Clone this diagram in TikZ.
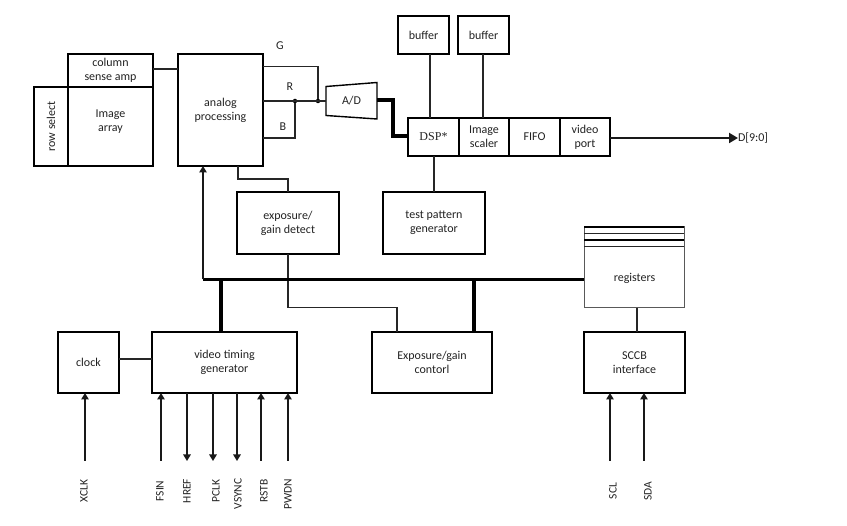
\documentclass[tikz,border=0pt]{standalone}
\usepackage{fontspec}
\setmainfont{Carlito}
\newfontfamily\dspfont{Liberation Serif}
\usetikzlibrary{arrows.meta,calc}
\definecolor{ink}{HTML}{222222}
\tikzset{
  box/.style={draw=black,line width=1.4pt,outer sep=0pt,inner sep=0pt,align=center,text=ink,font=\fontsize{12}{14}\selectfont},
  lab/.style={text=ink,inner sep=0pt,outer sep=0pt,font=\fontsize{12}{14}\selectfont},
  sig/.style={lab,rotate=90,font=\fontsize{11.5}{12}\selectfont},
  wire/.style={draw=black!85,line width=1.1pt},
  med/.style={draw=black,line width=1.4pt},
  arr/.style={draw=black!90,line width=1.3pt,-{Triangle[length=6.5pt,width=7.5pt]}},
  bus/.style={draw=black,line width=3.8pt},
  dot/.style={circle,fill=black,inner sep=0pt,minimum size=4.5pt},
  bx/.style n args={4}{box,minimum width={(#3)-(#1)},minimum height={(#4)-(#2)},at={({((#1)+(#3))/2},{((#2)+(#4))/2})}}
}
\begin{document}
\begin{tikzpicture}[x=1pt,y=-1pt]
\useasboundingbox (0,0) rectangle (847,526);
% sensor
\node[bx={68}{54}{153}{87}] (col) {column\\sense amp};
\node[bx={34}{87}{68}{166}] (row) {\rotatebox{90}{row select}};
\node[bx={68}{87}{153}{166}] (img) {};
\node[lab,align=center] (imgl) at (110.5,122) {Image\\array};
\node[bx={178}{54}{263}{166}] (ana) {analog\\processing};
% A/D
\node[lab,minimum width=51pt,minimum height=30pt] (ad) at (351.5,101) {A/D};
\draw[med] (326,86.5) -- (377,82.5) -- (377,119) -- (326,115.5) -- cycle;
% DSP row
\node[bx={408}{118}{459}{156}] (dsp) {\dspfont DSP*};
\node[bx={459}{118}{509}{156}] (scal) {Image\\scaler};
\node[bx={509}{118}{560}{156}] (fifo) {FIFO};
\node[bx={560}{118}{610}{156}] (port) {video\\port};
\node[bx={398}{16}{449}{54}] (bufa) {buffer};
\node[bx={458}{16}{509}{54}] (bufb) {buffer};
\node[bx={383}{192}{485}{254}] (test) {test pattern\\generator};
\node[bx={237}{192}{339}{254}] (det) {exposure/\\gain detect};
% lower
\node[bx={58}{332}{119}{393}] (clk) {clock};
\node[bx={152}{332}{297}{393}] (vt) {video timing\\generator};
\node[bx={372}{332}{492}{393}] (ctl) {Exposure/gain\\contorl};
\node[bx={584}{332}{685}{393}] (sccb) {SCCB\\interface};
\node[bx={584}{227}{684}{308},draw=black!65,line width=1pt] (reg) {};
\node[lab] (regl) at (634.5,278) {registers};
% register stripes
\coordinate (sa) at (584,227); \coordinate (sb) at (584,233.5);
\coordinate (sc) at (584,240); \coordinate (sd) at (584,246);
\draw[med,line width=1.8pt] (sa) -- (sa -| reg.east);
\draw[wire,line width=.9pt] (sb) -- (sb -| reg.east);
\draw[med,line width=1.8pt] (sc) -- (sc -| reg.east);
\draw[wire,line width=.9pt] (sd) -- (sd -| reg.east);
% labels
\node[lab] (g) at (280,46) {G};
\node[lab] (r) at (290,87) {R};
\node[lab] (b) at (283,127) {B};
\node[lab,anchor=west] (dout) at (738,138) {D[9:0]};
% analog to A/D
\coordinate (gy) at (263,66.5); \coordinate (by) at (263,138);
\node[dot] (ja) at (295,101) {};
\node[dot] (jb) at (318,101) {};
\draw[wire] (col.east |- 0,69) -- (ana.west |- 0,69);
\draw[wire] (ana.east |- jb) -- (ad.west);
\draw[wire] (gy) -| (jb);
\draw[wire] (by) -| (ja);
% thick ADC to DSP
\coordinate (ada) at (377,100); \coordinate (adb) at (393,136);
\draw[draw=black,line width=3.4pt] (ada) -| (adb) -- (adb -| dsp.west);
% DSP row links
\draw[wire] (bufa.south -| 430,0) -- (dsp.north -| 430,0);
\draw[wire] (bufb.south -| 483,0) -- (scal.north -| 483,0);
\draw[wire] (dsp.south -| 434,0) -- (test.north -| 434,0);
\draw[arr,line width=2pt,-{Triangle[length=9pt,width=10pt]}] (port.east |- 0,138) -- (dout.west);
% analog - detect
\coordinate (da) at (238,179);
\draw[wire] (ana.south -| da) -- (da) -| (det.north);
% detect - control
\coordinate (cb) at (397,307.5);
\draw[wire] (det.south) |- (cb) -- (ctl.north -| cb);
% bus
\coordinate (busl) at (203,279.5);
\draw[bus] (busl) -- (busl -| reg.west);
\draw[arr] (busl) -- (busl |- ana.south);
\draw[bus] (221,279.5) -- (vt.north -| 221,0);
\draw[bus] (474,279.5) -- (ctl.north -| 474,0);
% others
\draw[wire] (clk.east |- 0,359) -- (vt.west |- 0,359);
\draw[wire] (reg.south -| 637,0) -- (sccb.north -| 637,0);
% signals
\coordinate (xclk) at (85,461); \coordinate (fsin) at (161,461);
\coordinate (href) at (187,461); \coordinate (pclk) at (213,461);
\coordinate (vsync) at (237,461); \coordinate (rstb) at (261,461);
\coordinate (pwdn) at (288,461); \coordinate (scl) at (610,461);
\coordinate (sda) at (644,461);
\draw[arr] (xclk) -- (xclk |- clk.south);
\draw[arr] (fsin) -- (fsin |- vt.south);
\draw[arr] (href |- vt.south) -- (href);
\draw[arr] (pclk |- vt.south) -- (pclk);
\draw[arr] (vsync |- vt.south) -- (vsync);
\draw[arr] (rstb) -- (rstb |- vt.south);
\draw[arr] (pwdn) -- (pwdn |- vt.south);
\draw[arr] (scl) -- (scl |- sccb.south);
\draw[arr] (sda) -- (sda |- sccb.south);
\node[sig] (lxclk) at (84,491) {XCLK};
\node[sig] (lfsin) at (160,491) {FSIN};
\node[sig] (lhref) at (187,491) {HREF};
\node[sig] (lpclk) at (216,491) {PCLK};
\node[sig] (lvsync) at (238,494) {VSYNC};
\node[sig] (lrstb) at (264,491) {RSTB};
\node[sig] (lpwdn) at (288,494) {PWDN};
\node[sig] (lscl) at (613,491) {SCL};
\node[sig] (lsda) at (648,491) {SDA};
\end{tikzpicture}
\end{document}
